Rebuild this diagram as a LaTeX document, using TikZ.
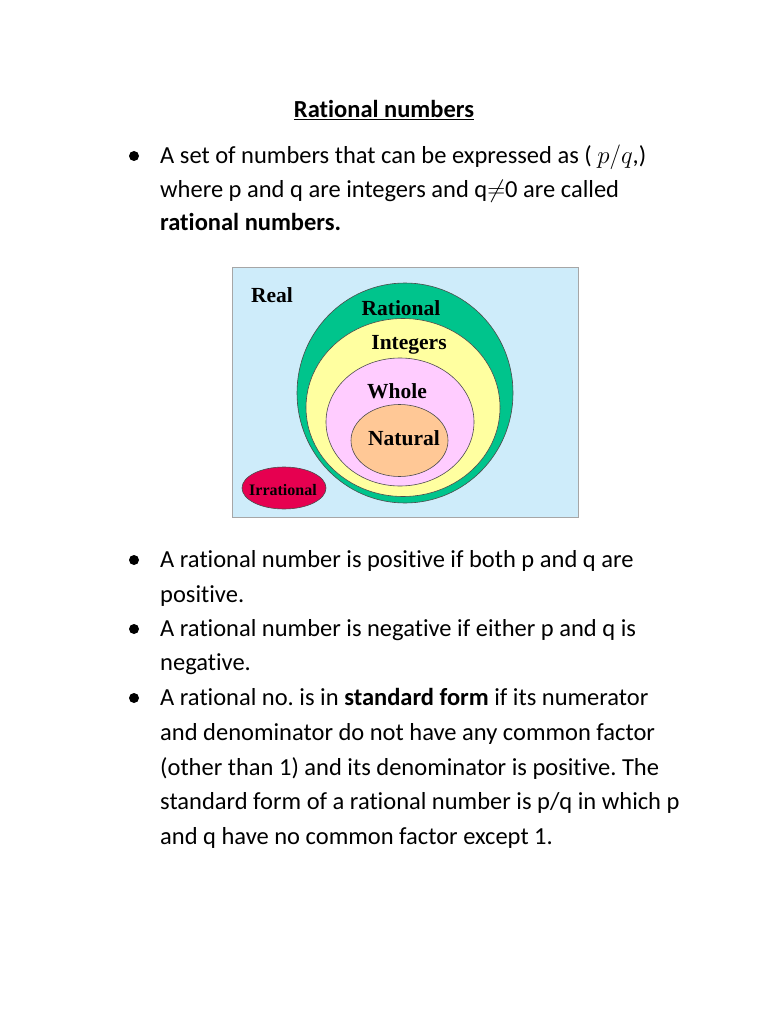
\documentclass[tikz,border=0pt]{standalone}
\usepackage{fontspec}
\setmainfont{Carlito}[Ligatures=NoCommon]
\newfontfamily\serifb{Liberation Serif}
\frenchspacing
\begin{document}
\begin{tikzpicture}[x=1pt,y=-1pt,
  txt/.style={anchor=mid west,inner sep=0pt,yshift=-5pt,font=\fontsize{24.5}{29}\selectfont},
  bul/.style={circle,fill=black,inner sep=0pt,minimum size=10pt},
  lab/.style={font=\serifb\bfseries\fontsize{21.5}{23}\selectfont,inner sep=0pt},
  ring/.style={draw=black!70,line width=0.6pt}]
\useasboundingbox (0,0) rectangle (768,1024);
\fill[white] (0,0) rectangle (768,1024);
\node[txt,anchor=mid] (title) at (384,110) {\textbf{\underline{Rational numbers}}};
\node[bul] (b1) at (134,156) {};
\node[txt] (l1) at (160,156) {A set of numbers that can be expressed as ( $p/q$,)};
\node[txt] (l2) at (160,190) {where p and q are integers and q$\neq$0 are called};
\node[txt] (l3) at (160,223) {\textbf{rational numbers.}};
% diagram
\draw[fill={rgb,255:red,206;green,236;blue,250},draw=black!35] (232,267) rectangle (578,517);
\draw[ring,fill={rgb,255:red,0;green,196;blue,140}] (405,393) ellipse [x radius=108,y radius=110];
\draw[ring,fill={rgb,255:red,255;green,255;blue,160}] (403,407.5) ellipse [x radius=97,y radius=89];
\draw[ring,fill={rgb,255:red,255;green,204;blue,255}] (400,422) ellipse [x radius=74,y radius=64];
\draw[ring,fill={rgb,255:red,255;green,200;blue,150}] (399.5,440.5) ellipse [x radius=48.5,y radius=36];
\draw[ring,fill={rgb,255:red,230;green,0;blue,80}] (284,488) ellipse [x radius=42,y radius=21];
\node[lab] (real) at (272,295) {Real};
\node[lab] (rat) at (401,308) {Rational};
\node[lab] (int) at (409,345) {Integers};
\node[lab] (who) at (397,391) {Whole};
\node[lab] (nat) at (404,438) {Natural};
\node[lab,font=\serifb\bfseries\fontsize{16}{18}\selectfont] (irr) at (283,490) {Irrational};
% bullets 2
\node[bul] (b2) at (134,560) {};
\node[txt] (m1) at (160,560) {A rational number is positive if both p and q are};
\node[txt] (m2) at (160,595) {positive.};
\node[bul] (b3) at (134,629) {};
\node[txt] (m3) at (160,629) {A rational number is negative if either p and q is};
\node[txt] (m4) at (160,663) {negative.};
\node[bul] (b4) at (134,698) {};
\node[txt] (m5) at (160,698) {A rational no. is in \textbf{standard form} if its numerator};
\node[txt] (m6) at (160,733) {and denominator do not have any common factor};
\node[txt] (m7) at (160,768) {(other than 1) and its denominator is positive. The};
\node[txt] (m8) at (160,802) {standard form of a rational number is p/q in which p};
\node[txt] (m9) at (160,837) {and q have no common factor except 1.};
\end{tikzpicture}
\end{document}
